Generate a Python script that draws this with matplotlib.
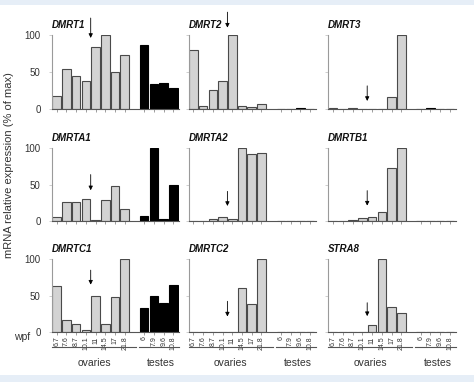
import matplotlib
matplotlib.use("Agg")
import matplotlib.pyplot as plt
from matplotlib.patches import Rectangle

plt.rcParams['font.family'] = ['Liberation Sans', 'DejaVu Sans']

# ---------------- data ----------------
wpf_ovaries = ["6.7", "7.6", "8.7", "10.1", "11", "14.5", "17", "21.8"]
wpf_testes = ["6", "7.9", "9.6", "10.8"]

genes = ["DMRT1", "DMRT2", "DMRT3",
         "DMRTA1", "DMRTA2", "DMRTB1",
         "DMRTC1", "DMRTC2", "STRA8"]

ovaries_DMRT1 = [17, 54, 45, 38, 84, 100, 50, 73]
testes_DMRT1 = [86, 33, 35, 28]
ovaries_DMRT2 = [79, 3, 26, 38, 100, 4, 2, 6]
testes_DMRT2 = [0, 0, 1.2, 0]
ovaries_DMRT3 = [0.5, 0, 1.2, 0, 0, 0, 16, 100]
testes_DMRT3 = [0, 1.5, 0, 0]
ovaries_DMRTA1 = [5.5, 26.5, 26.5, 30, 1.5, 29, 48, 17]
testes_DMRTA1 = [7, 100, 3.5, 50]
ovaries_DMRTA2 = [0, 0, 3, 6.5, 2.5, 100, 92, 94]
testes_DMRTA2 = [0, 0, 0, 0]
ovaries_DMRTB1 = [0, 0, 1.8, 4.6, 6.4, 12.5, 73, 100]
testes_DMRTB1 = [0, 0, 0, 0]
ovaries_DMRTC1 = [63, 16, 10, 3, 50, 11, 48, 100]
testes_DMRTC1 = [33, 50, 40, 65]
ovaries_DMRTC2 = [0, 0, 0, 0, 0, 60, 38, 100]
testes_DMRTC2 = [0, 0, 0, 0]
ovaries_STRA8 = [0, 0, 0, 0, 9, 100, 34, 26]
testes_STRA8 = [0, 0, 0, 0]

ovaries = [ovaries_DMRT1, ovaries_DMRT2, ovaries_DMRT3,
           ovaries_DMRTA1, ovaries_DMRTA2, ovaries_DMRTB1,
           ovaries_DMRTC1, ovaries_DMRTC2, ovaries_STRA8]
testes = [testes_DMRT1, testes_DMRT2, testes_DMRT3,
          testes_DMRTA1, testes_DMRTA2, testes_DMRTB1,
          testes_DMRTC1, testes_DMRTC2, testes_STRA8]

# arrow (start, end) in data units, marking 10.1-11 wpf
arrow_start = [123, 131, 31, 64, 41, 42, 85, 42, 40]
arrow_end = [96, 110, 10.5, 42.5, 21, 21.5, 65, 21, 21.5]

# ---------------- layout ----------------
W, H = 474, 382
fig = plt.figure(figsize=(W / 100, H / 100), dpi=100)
fig.patch.set_facecolor("white")

band = "#e6eef7"
fig.add_artist(Rectangle((0, 1 - 5 / H), 1, 5 / H, transform=fig.transFigure,
                         facecolor=band, edgecolor="none", zorder=0))
fig.add_artist(Rectangle((0, 0), 1, 7 / H, transform=fig.transFigure,
                         facecolor=band, edgecolor="none", zorder=0))

col_left = [51.8, 188.5, 328.3]
col_w = 127.4
row_zero = [108.7, 221.3, 331.7]
row_top = [35.0, 148.3, 259.3]

ov_pos = list(range(8))
te_pos = [9, 10, 11, 12]

light = "#d3d3d3"
edge = "#4a4a4a"

for i, gene in enumerate(genes):
    r, c = divmod(i, 3)
    left = col_left[c] / W
    bottom = 1 - row_zero[r] / H
    height = (row_zero[r] - row_top[r]) / H
    ax = fig.add_axes([left, bottom, col_w / W, height])
    ax.bar(ov_pos, ovaries[i], width=0.88, color=light, edgecolor=edge,
           linewidth=0.8, zorder=2)
    ax.bar(te_pos, testes[i], width=0.88, color="black", edgecolor="black",
           linewidth=0.8, zorder=2)
    ax.set_xlim(-0.5, 12.6)
    ax.set_ylim(0, 100)
    for s in ["top", "right"]:
        ax.spines[s].set_visible(False)
    ax.spines["left"].set_color("#9a9a9a")
    ax.spines["left"].set_linewidth(0.8)
    ax.spines["bottom"].set_color("#555555")
    ax.spines["bottom"].set_linewidth(0.8)
    ax.set_yticks([0, 50, 100])
    ax.tick_params(axis="y", length=2, width=0.5, color="#bbbbbb",
                   labelsize=7, labelcolor="#333333", pad=6)
    if c != 0:
        ax.set_yticklabels([])
    ax.set_xticks(ov_pos + te_pos)
    ax.tick_params(axis="x", length=2, width=0.5, color="#777777",
                   labelsize=5, labelcolor="#333333", pad=1.5)
    if r == 2:
        ax.set_xticklabels(wpf_ovaries + wpf_testes, rotation=90)
    else:
        ax.set_xticklabels([])
    ax.set_facecolor("none")

    ax.text(0.0, 1.07, gene, transform=ax.transAxes, fontsize=7,
            fontweight="bold", fontstyle="italic", ha="left", va="bottom",
            color="#111111")

    ax.annotate("", xy=(3.5, arrow_end[i]), xytext=(3.5, arrow_start[i]),
                arrowprops=dict(arrowstyle="-|>", color="black", lw=0.6,
                                mutation_scale=6, shrinkA=0, shrinkB=0),
                annotation_clip=False)

    if r == 2:
        yl = -(346.5 - row_zero[r]) / (row_zero[r] - row_top[r]) * 100
        yt = -(362.5 - row_zero[r]) / (row_zero[r] - row_top[r]) * 100
        ax.plot([-0.5, 8.15], [yl, yl], color="#555555", lw=0.8,
                clip_on=False)
        ax.plot([8.45, 12.6], [yl, yl], color="#555555", lw=0.8,
                clip_on=False)
        ax.text(3.85, yt, "ovaries", fontsize=7.5, ha="center", va="center",
                color="#333333")
        ax.text(10.75, yt, "testes", fontsize=7.5, ha="center", va="center",
                color="#333333")

fig.text(22 / W, 1 - 337 / H, "wpf", fontsize=7.5, ha="center", va="center",
         color="#333333")
fig.text(9.5 / W, 1 - 165 / H, "mRNA relative expression (% of max)",
         rotation=90, fontsize=8, ha="center", va="center", color="#333333")

fig.savefig("out.png", dpi=100)
